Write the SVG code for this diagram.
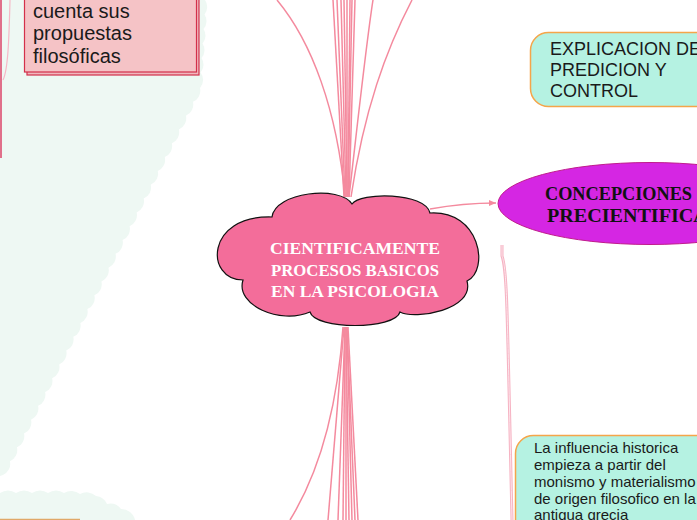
<svg xmlns="http://www.w3.org/2000/svg" width="697" height="520" viewBox="0 0 697 520">
<style>
.sans{font-family:"Liberation Sans",Arial,sans-serif;fill:#1a1a1a}
.fancy{font-family:"Liberation Serif","DejaVu Serif",serif;font-weight:bold}
.con{fill:none;stroke:#F48A9E;stroke-width:1.5}
.mint{fill:#B5F2E2;stroke:#F5A54A;stroke-width:1.5}
</style>
<defs>
<marker id="arr" markerWidth="8" markerHeight="8" refX="7" refY="4" orient="auto" markerUnits="userSpaceOnUse">
<path d="M0,1 L7,4 L0,7 Z" fill="#F48A9E"/>
</marker>
</defs>
<rect width="697" height="520" fill="#ffffff"/>
<g id="background">
<path fill="#EEF8F3" d="M0,0 L205,0 a12,12 0 0 1 -0.5,14.5 a12,12 0 0 1 -1,14.5 a12,12 0 0 1 -1,14.5 a12,12 0 0 1 -1,14.5 a12,12 0 0 1 -1,14.5 a12,12 0 0 1 -0.5,15.5
a12,12 0 0 1 -7.04,13.82 a12,12 0 0 1 -7.04,13.82 a12,12 0 0 1 -7.04,13.82 a12,12 0 0 1 -7.04,13.82 a12,12 0 0 1 -7.04,13.82 a12,12 0 0 1 -7.04,13.82 a12,12 0 0 1 -7.04,13.82
a12,12 0 0 1 -7.04,13.82 a12,12 0 0 1 -7.04,13.82 a12,12 0 0 1 -7.04,13.82 a12,12 0 0 1 -7.04,13.82 a12,12 0 0 1 -7.04,13.82 a12,12 0 0 1 -7.04,13.82 a12,12 0 0 1 -7.04,13.82
a12,12 0 0 1 -7.04,13.82 a12,12 0 0 1 -7.04,13.82 a12,12 0 0 1 -7.04,13.82 a12,12 0 0 1 -7.04,13.82 a12,12 0 0 1 -7.04,13.82 a12,12 0 0 1 -7.04,13.82 a12,12 0 0 1 -7.04,13.82
a12,12 0 0 1 -7.04,13.82 a12,12 0 0 1 -7.04,13.82 a12,12 0 0 1 -7.04,13.82 a12,12 0 0 1 -7.04,13.82 a12,12 0 0 1 -7.04,13.82 a12,12 0 0 1 -7.04,13.82 a12,12 0 0 1 -7.04,13.82
L0,476 Z"/>
<path fill="#EEF8F3" d="M0,520 L0,493 a14,14 0 0 1 16,0 a14,14 0 0 1 16,0 a14,14 0 0 1 16,0 a14,14 0 0 1 16,0 a14,14 0 0 1 16,1 a14,14 0 0 1 16,2 a14,14 0 0 1 11,8 a14,14 0 0 1 14,5 a14,14 0 0 1 14,11 Z"/>
<line x1="0" y1="519.5" x2="80" y2="519.5" stroke="#E0A868" stroke-width="1.5"/>
<line x1="1" y1="0" x2="1" y2="158" stroke="#E0708A" stroke-width="2"/>
<path d="M10,0 C9,40 8,70 3,80" fill="none" stroke="#F6B8C6" stroke-width="1.2"/>
</g>
<g id="connectors">
<path class="con" d="M345,197 C337,110 312,42 277,0"/>
<path class="con" d="M351,197 C364,110 386,50 412,0"/>
<path class="con" d="M349,197 C358,120 366,45 373,0"/>
<path class="con" d="M344,197 L333,0"/>
<path class="con" d="M345,197 L337,0"/>
<path class="con" d="M346,197 L341,0"/>
<path class="con" d="M347,197 L344,0"/>
<path class="con" d="M347,197 L347,0"/>
<path class="con" d="M348,197 L350,0"/>
<path class="con" d="M348,197 L352,0"/>
<path class="con" d="M349,197 L355,0"/>
<path class="con" d="M343,327 C338,400 322,468 290,520"/>
<path class="con" d="M344,327 L328,520"/>
<path class="con" d="M345,327 L338,520"/>
<path class="con" d="M345,327 L343,520"/>
<path class="con" d="M346,327 L346,520"/>
<path class="con" d="M346,327 L349,520"/>
<path class="con" d="M347,327 L352,520"/>
<path class="con" d="M347,327 L355,520"/>
<path class="con" d="M348,327 L358,520"/>
<path class="con" d="M430,209 C452,205 475,203 496,203" marker-end="url(#arr)"/>
<path d="M502,245 L502,256 C507,270 507,300 512,520" fill="none" stroke="#F6B2C2" stroke-width="3"/>
<path d="M502,245 L502,256 C507,270 507,300 512,520" fill="none" stroke="#FDE6EC" stroke-width="1"/>
</g>
<g id="node-cuenta">
<rect x="27" y="-17" width="172" height="92" fill="#F0B8BE" stroke="#D3304A" stroke-width="1.2"/>
<rect x="24.5" y="-20" width="172" height="92" fill="#F5C3C6" stroke="#D3304A" stroke-width="1.2"/>
<text class="sans" font-size="20"><tspan x="33" y="17.5">cuenta sus</tspan><tspan x="33" y="40">propuestas</tspan><tspan x="33" y="62.5">filosóficas</tspan></text>
</g>
<g id="node-explicacion">
<rect class="mint" x="530.5" y="32.5" width="200" height="74" rx="18"/>
<text class="sans" font-size="18"><tspan x="550" y="55">EXPLICACION DE</tspan><tspan x="550" y="76">PREDICION Y</tspan><tspan x="550" y="97">CONTROL</tspan></text>
</g>
<g id="node-concepciones">
<ellipse cx="650" cy="203.5" rx="152" ry="41" fill="#D526E3" stroke="#C01C8C" stroke-width="1"/>
<text class="fancy" font-size="18" fill="#111"><tspan x="545" y="200" textLength="147" lengthAdjust="spacingAndGlyphs">CONCEPCIONES</tspan><tspan x="547" y="222" textLength="172" lengthAdjust="spacingAndGlyphs">PRECIENTIFICAS</tspan></text>
</g>
<g id="node-cloud">
<path d="M272,217 C275,192 340,185 352,204 C360,192 425,192 430,213 C480,210 490,270 467,281 C475,310 415,320 400,312 C395,330 315,330 310,312 C280,325 235,305 243,280 C205,280 205,215 272,217 Z" fill="#F36D9A" stroke="#111" stroke-width="1.2"/>
<text class="fancy" font-size="17" fill="#ffffff" text-anchor="middle"><tspan x="355" y="254" textLength="170" lengthAdjust="spacingAndGlyphs">CIENTIFICAMENTE</tspan><tspan x="355" y="276" textLength="168" lengthAdjust="spacingAndGlyphs">PROCESOS BASICOS</tspan><tspan x="355" y="297" textLength="168" lengthAdjust="spacingAndGlyphs">EN LA PSICOLOGIA</tspan></text>
</g>
<g id="node-influencia">
<rect class="mint" x="515.5" y="435.5" width="220" height="120" rx="18"/>
<text class="sans" font-size="15"><tspan x="534" y="453">La influencia historica</tspan><tspan x="534" y="470">empieza a partir del</tspan><tspan x="534" y="487">monismo y materialismo</tspan><tspan x="534" y="503.5">de origen filosofico en la</tspan><tspan x="534" y="520">antigua grecia</tspan></text>
</g>
</svg>
